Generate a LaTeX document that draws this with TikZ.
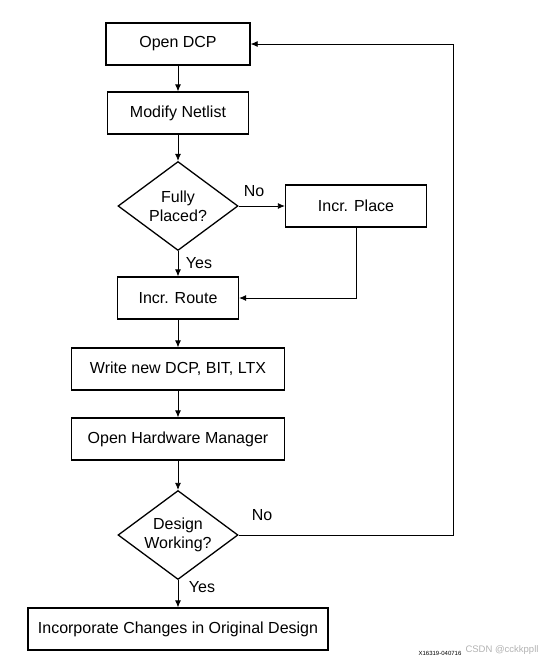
\documentclass[tikz,border=0pt]{standalone}
\usepackage{fontspec}
\setmainfont{Liberation Sans}
\usetikzlibrary{shapes.geometric,arrows.meta}
\begin{document}
\begin{tikzpicture}[x=1pt,y=-1pt,
  font=\fontsize{16}{19}\selectfont,
  box/.style={draw,line width=1.3pt,rectangle,inner sep=0pt,minimum height=42pt},
  dec/.style={draw,line width=1.3pt,diamond,inner sep=-12pt,minimum width=120pt,minimum height=89pt,align=center},
  flow/.style={line width=0.8pt,-{Latex[length=7pt,width=6pt]}},
  lbl/.style={inner sep=0pt}]
\useasboundingbox (0,0) rectangle (545,667);
\node[box,minimum width=144pt] (open) at (178,44) {Open DCP};
\node[box,minimum width=141pt] (mod) at (178,113) {Modify Netlist};
\node[dec] (fp) at (178,206) {Fully\\Placed?};
\node[box,minimum width=141pt] (place) at (356,206) {Incr. Place};
\node[box,minimum width=121pt] (route) at (178,298) {Incr. Route};
\node[box,minimum width=213pt] (write) at (178,369) {Write new DCP, BIT, LTX};
\node[box,minimum width=213pt] (hw) at (178,439) {Open Hardware Manager};
\node[dec] (dw) at (178,535) {Design\\Working?};
\node[box,minimum width=300pt] (inc) at (178,629) {Incorporate Changes in Original Design};
\coordinate (c1) at (453,535);
\coordinate (c2) at (453,44);
\coordinate (c3) at (356,298);
\draw[flow] (open) -- (mod);
\draw[flow] (mod) -- (fp);
\draw[flow] (fp) -- (place);
\node[lbl] (no1) at (254,191) {No};
\draw[flow] (fp) -- (route);
\node[lbl] (yes1) at (199,263) {Yes};
\draw[flow] (place) -- (c3) -- (route);
\draw[flow] (route) -- (write);
\draw[flow] (write) -- (hw);
\draw[flow] (hw) -- (dw);
\draw[flow] (dw) -- (inc);
\node[lbl] (yes2) at (202,587) {Yes};
\draw[flow] (dw.east) -- (c1) -- (c2) -- (open);
\node[lbl] (no2) at (262,515) {No};
\node[lbl,font=\fontsize{6}{7}\selectfont] (fid) at (440,653) {X16319-040716};
\node[lbl,text=black!30,font=\fontsize{9.5}{11}\selectfont] (wm) at (502,650) {CSDN @cckkppll};
\end{tikzpicture}
\end{document}
